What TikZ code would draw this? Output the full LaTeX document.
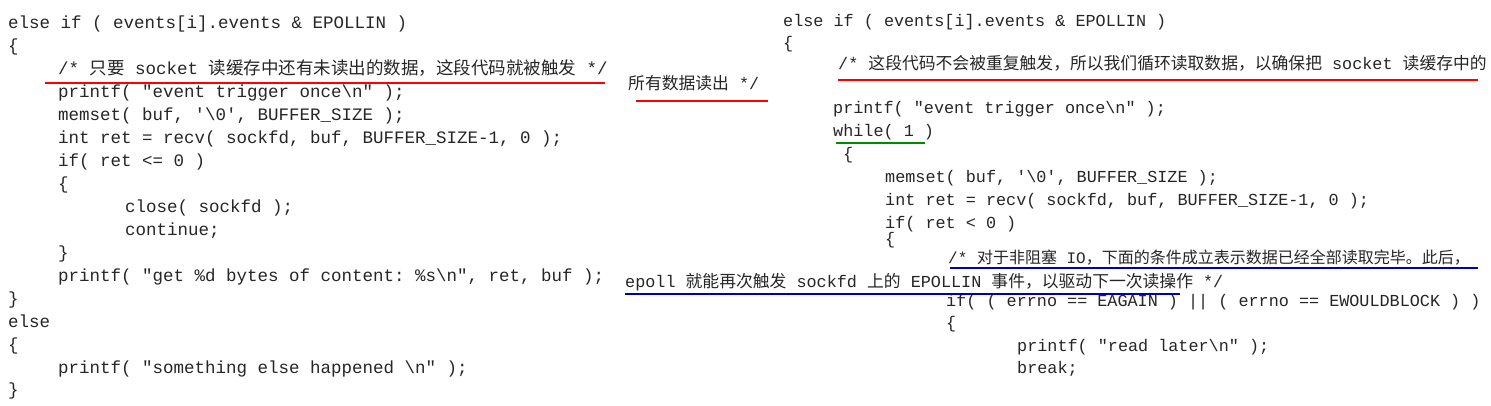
\documentclass[tikz,border=0pt]{standalone}
\usepackage{fontspec}
\setmonofont{Liberation Mono}
\newfontfamily\cjk{Noto Sans CJK SC}
\begin{document}
\begin{tikzpicture}[x=1pt,y=-1pt,
  L/.style={anchor=base west,inner sep=0pt,font=\fontsize{17.5}{20}\ttfamily,text=black!85},
  R/.style={anchor=base west,inner sep=0pt,font=\fontsize{16.8}{20}\ttfamily,text=black!85},
  ul/.style={line width=2.5pt}]
\useasboundingbox[fill=white] (0,0) rectangle (1491,405);
% left column
\node[L] (a1) at (8,28) {else if ( events[i].events \& EPOLLIN )};
\node[L] (a2) at (8,51) {\{};
\node[L] (a3) at (58,74) {/* {\cjk 只要} socket {\cjk 读缓存中还有未读出的数据，这段代码就被触发} */};
\node[L] (a4) at (58,97) {printf( "event trigger once\textbackslash n" );};
\node[L] (a5) at (58,120) {memset( buf, '\textbackslash 0', BUFFER\_SIZE );};
\node[L] (a6) at (58,143) {int ret = recv( sockfd, buf, BUFFER\_SIZE-1, 0 );};
\node[L] (a7) at (58,166) {if( ret <= 0 )};
\node[L] (a8) at (58,189) {\{};
\node[L] (a9) at (125,212) {close( sockfd );};
\node[L] (a10) at (125,235) {continue;};
\node[L] (a11) at (58,258) {\}};
\node[L] (a12) at (58,281) {printf( "get \%d bytes of content: \%s\textbackslash n", ret, buf );};
\node[L] (a13) at (8,304) {\}};
\node[L] (a14) at (8,327) {else};
\node[L] (a15) at (8,350) {\{};
\node[L] (a16) at (58,373) {printf( "something else happened \textbackslash n" );};
\node[L] (a17) at (8,395) {\}};
\node[R] (m1) at (628,89) {{\cjk 所有数据读出} */};
% right column
\node[R] (b1) at (783,26) {else if ( events[i].events \& EPOLLIN )};
\node[R] (b2) at (783,48) {\{};
\node[R] (b3) at (838,69) {/* {\cjk 这段代码不会被重复触发，所以我们循环读取数据，以确保把} socket {\cjk 读缓存中的}};
\node[R] (b4) at (833,113) {printf( "event trigger once\textbackslash n" );};
\node[R] (b5) at (833,136) {while( 1 )};
\node[R] (b6) at (843,159) {\{};
\node[R] (b7) at (885,182) {memset( buf, '\textbackslash 0', BUFFER\_SIZE );};
\node[R] (b8) at (885,205) {int ret = recv( sockfd, buf, BUFFER\_SIZE-1, 0 );};
\node[R] (b9) at (885,228) {if( ret < 0 )};
\node[R] (b10) at (885,244) {\{};
\node[R,font=\fontsize{16}{20}\ttfamily] (b11) at (948,263) {/* {\cjk 对于非阻塞} IO{\cjk ，下面的条件成立表示数据已经全部读取完毕。此后，}};
\node[R] (b12) at (625,287) {epoll {\cjk 就能再次触发} sockfd {\cjk 上的} EPOLLIN {\cjk 事件，以驱动下一次读操作} */};
\node[R] (b13) at (946,306) {if( ( errno == EAGAIN ) || ( errno == EWOULDBLOCK ) )};
\node[R] (b14) at (946,328) {\{};
\node[R] (b15) at (1017,351) {printf( "read later\textbackslash n" );};
\node[R] (b16) at (1017,373) {break;};
% underlines
\coordinate (r1a) at (45,83); \coordinate (r1b) at (605,83);
\coordinate (r2a) at (636,101); \coordinate (r2b) at (768,101);
\coordinate (r3a) at (838,80); \coordinate (r3b) at (1478,80);
\coordinate (g1a) at (836,143); \coordinate (g1b) at (925,143);
\coordinate (u1a) at (950,268); \coordinate (u1b) at (1478,268);
\coordinate (u2a) at (625,294); \coordinate (u2b) at (1180,294);
\draw[ul,red] (r1a) -- (r1b);
\draw[ul,red] (r2a) -- (r2b);
\draw[ul,red] (r3a) -- (r3b);
\draw[ul,green!55!black] (g1a) -- (g1b);
\draw[ul,blue!70!black] (u1a) -- (u1b);
\draw[ul,blue!70!black] (u2a) -- (u2b);
\end{tikzpicture}
\end{document}
